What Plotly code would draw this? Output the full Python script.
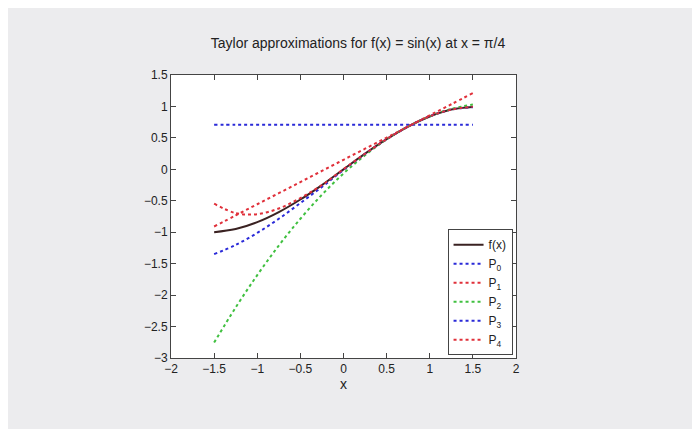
import plotly.graph_objects as go

# sample points
x = [-1.5, -1.25, -1.0, -0.75, -0.5, -0.25, 0.0, 0.25, 0.5, 0.75, 1.0, 1.25, 1.5]
f = [-1.0, -0.95, -0.84, -0.68, -0.48, -0.25, 0.0, 0.25, 0.48, 0.68, 0.84, 0.95, 0.99]
p0 = [0.707] * 13
p1 = [-0.909, -0.732, -0.555, -0.379, -0.202, -0.025, 0.152, 0.328, 0.505, 0.682, 0.859, 1.035, 1.212]
p2 = [-2.755, -2.196, -1.682, -1.212, -0.786, -0.404, -0.066, 0.224, 0.476, 0.682, 0.843, 0.96, 1.031]
p3 = [-1.349, -1.202, -1.011, -0.786, -0.536, -0.28, -0.009, 0.246, 0.479, 0.682, 0.844, 0.95, 0.988]
p4 = [-0.546, -0.697, -0.712, -0.622, -0.456, -0.25, 0.002, 0.247, 0.479, 0.682, 0.844, 0.95, 0.996]

series = [
    ("f(x)", f, "#3a2222", "solid"),
    ("P<sub>0</sub>", p0, "#2a2ad8", "dot"),
    ("P<sub>1</sub>", p1, "#e0303a", "dot"),
    ("P<sub>2</sub>", p2, "#40c040", "dot"),
    ("P<sub>3</sub>", p3, "#2a2ad8", "dot"),
    ("P<sub>4</sub>", p4, "#e0303a", "dot"),
]

fig = go.Figure()
for name, y, color, dash in series:
    fig.add_trace(go.Scatter(x=x, y=y, name=name, mode="lines",
                             line=dict(color=color, width=2, dash=dash, shape="spline")))

axis = dict(showgrid=False, zeroline=False, showline=True, mirror="ticks",
            linecolor="#444", ticks="inside", ticklen=5, tickcolor="#444")
fig.update_xaxes(range=[-2, 2], dtick=0.5, title=dict(text="x", standoff=2), **axis)
fig.update_yaxes(range=[-3, 1.5], dtick=0.5, **axis)

fig.update_layout(
    title=dict(text="Taylor approximations for f(x) = sin(x) at x = π/4", x=0.5, y=0.93,
               font=dict(size=14, color="#222")),
    font=dict(family="Liberation Sans, Arial, sans-serif", size=12, color="#222"),
    width=700, height=429,
    paper_bgcolor="#ececee", plot_bgcolor="white",
    margin=dict(l=163, r=192, t=67, b=79),
    legend=dict(x=0.99, y=0.01, xanchor="right", yanchor="bottom",
                bgcolor="white", bordercolor="#444", borderwidth=1, tracegroupgap=0,
                font=dict(size=12)),
)

fig.write_html("out.html")
